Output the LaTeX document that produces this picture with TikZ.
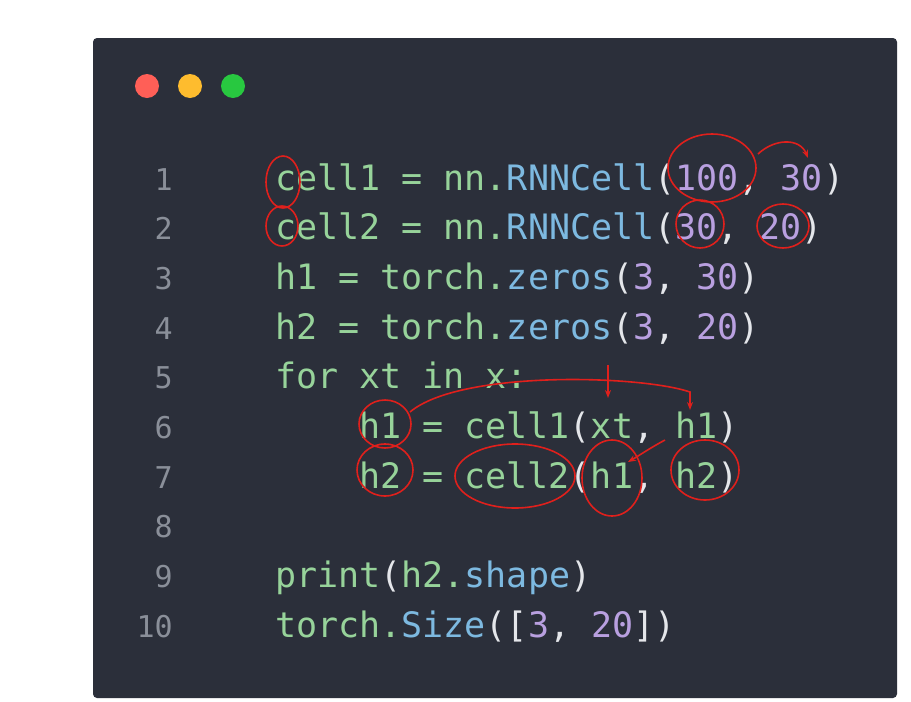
\documentclass[tikz,border=0pt]{standalone}
\usepackage{fontspec}
\setmonofont{DejaVu Sans Mono}
\usetikzlibrary{arrows.meta}
\definecolor{panel}{HTML}{2B2F3A}
\definecolor{cg}{HTML}{97D39A}
\definecolor{cb}{HTML}{7DB9E0}
\definecolor{cp}{HTML}{B9A0E0}
\definecolor{cw}{HTML}{E4E6EA}
\definecolor{cn}{HTML}{8A8F99}
\definecolor{pen}{HTML}{E0201C}
\definecolor{dr}{HTML}{FF5F57}
\definecolor{dy}{HTML}{FEBC2E}
\definecolor{dg}{HTML}{28C840}
\newcommand{\G}[1]{\textcolor{cg}{#1}}
\newcommand{\B}[1]{\textcolor{cb}{#1}}
\newcommand{\Pu}[1]{\textcolor{cp}{#1}}
\newcommand{\W}[1]{\textcolor{cw}{#1}}
\begin{document}
\begin{tikzpicture}[x=1pt,y=-1pt,
  code/.style={anchor=base west,inner sep=0pt,font=\ttfamily\fontsize{35}{35}\selectfont},
  num/.style={anchor=base east,inner sep=0pt,text=cn,font=\ttfamily\fontsize{30}{30}\selectfont},
  penmark/.style={draw=pen,line width=1.6pt},
  penarr/.style={draw=pen,line width=1.6pt,-{Stealth[length=8pt]}}]
\useasboundingbox (0,0) rectangle (911,702);
\fill[white] (0,0) rectangle (911,702);
\fill[panel,rounded corners=4pt] (93,38) rectangle (897,698);
\fill[dr] (147,86) circle[radius=12];
\fill[dy] (190,86) circle[radius=12];
\fill[dg] (233,86) circle[radius=12];
\foreach \i in {1,...,10}{
  \node[num] (n\i) at (173,{190+49.7*(\i-1)}) {\i};
}
\node[code] (l1) at (275,190) {\G{cell1 = nn.}\B{RNNCell}\W{(}\Pu{100}\W{, }\Pu{30}\W{)}};
\node[code] (l2) at (275,239.7) {\G{cell2 = nn.}\B{RNNCell}\W{(}\Pu{30}\W{, }\Pu{20}\W{)}};
\node[code] (l3) at (275,289.4) {\G{h1 = torch.}\B{zeros}\W{(}\Pu{3}\W{, }\Pu{30}\W{)}};
\node[code] (l4) at (275,339.1) {\G{h2 = torch.}\B{zeros}\W{(}\Pu{3}\W{, }\Pu{20}\W{)}};
\node[code] (l5) at (275,388.8) {\G{for xt in x:}};
\node[code] (l6) at (359,438.5) {\G{h1 = cell1}\W{(}\G{xt}\W{, }\G{h1}\W{)}};
\node[code] (l7) at (359,488.2) {\G{h2 = cell2}\W{(}\G{h1}\W{, }\G{h2}\W{)}};
\node[code] (l9) at (275,587.6) {\G{print}\W{(}\G{h2.}\B{shape}\W{)}};
\node[code] (l10) at (275,637.3) {\G{torch.}\B{Size}\W{([}\Pu{3}\W{, }\Pu{20}\W{])}};
% annotations
\draw[penmark] (283,182) ellipse[x radius=17,y radius=26];
\draw[penmark] (282,226) ellipse[x radius=16,y radius=20];
\draw[penmark] (712,168) ellipse[x radius=44,y radius=34];
\draw[penmark] (700,224) ellipse[x radius=24,y radius=24];
\draw[penmark] (783,226) ellipse[x radius=26,y radius=22];
\draw[penarr] (758,154) .. controls (775,138) and (800,138) .. (808,158);
\draw[penmark] (385,424) ellipse[x radius=26,y radius=24];
\draw[penmark] (385,470) ellipse[x radius=28,y radius=26];
\draw[penmark] (515,476) ellipse[x radius=60,y radius=32];
\draw[penmark] (612,478) ellipse[x radius=30,y radius=38];
\draw[penmark] (705,470) ellipse[x radius=34,y radius=30];
\draw[penarr] (410,412) .. controls (460,370) and (640,375) .. (690,392) -- (690,410);
\draw[penarr] (608,365) -- (608,398);
\draw[penarr] (665,440) .. controls (650,448) and (640,455) .. (628,462);
\end{tikzpicture}
\end{document}
